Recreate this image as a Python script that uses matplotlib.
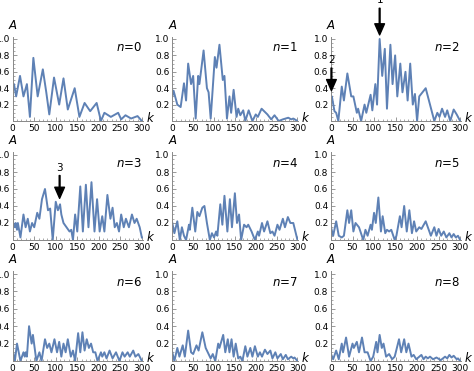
import matplotlib
matplotlib.use("Agg")
import matplotlib.pyplot as plt
from matplotlib.ticker import MultipleLocator

# (k, A) vertices, one pair of lists per panel
k0 = [0, 3, 8, 17, 25, 33, 40, 48, 58, 70, 78, 85, 96, 108, 118, 128, 144, 155, 167, 180, 195, 205, 213, 228, 245, 252, 262, 275, 290, 300]
a0 = [0.38, 0.45, 0.30, 0.55, 0.30, 0.45, 0.05, 0.77, 0.30, 0.63, 0.35, 0.08, 0.53, 0.20, 0.52, 0.14, 0.40, 0.05, 0.22, 0.12, 0.22, 0.0, 0.10, 0.05, 0.10, 0.02, 0.07, 0.03, 0.06, 0.0]

k1 = [0, 3, 12, 20, 28, 33, 38, 45, 50, 56, 62, 65, 75, 83, 87, 92, 102, 106, 113, 121, 125, 131, 137, 141, 147, 154, 158, 163, 170, 175, 183, 192, 200, 205, 214, 228, 237, 245, 255, 265, 278, 285, 290, 300]
a1 = [0.30, 0.37, 0.20, 0.17, 0.46, 0.25, 0.70, 0.45, 0.55, 0.03, 0.55, 0.45, 0.86, 0.40, 0.35, 0.03, 0.78, 0.65, 0.93, 0.50, 0.55, 0.03, 0.30, 0.10, 0.38, 0.05, 0.15, 0.07, 0.13, 0.0, 0.13, 0.0, 0.08, 0.05, 0.15, 0.08, 0.02, 0.07, 0.0, 0.02, 0.04, 0.02, 0.03, 0.0]

k2 = [0, 2, 8, 12, 17, 25, 30, 38, 47, 52, 60, 63, 70, 78, 82, 92, 96, 103, 107, 113, 119, 125, 130, 138, 143, 149, 154, 161, 166, 173, 178, 184, 190, 195, 200, 205, 220, 230, 240, 247, 252, 258, 265, 270, 277, 285, 292, 300]
a2 = [0.28, 0.30, 0.12, 0.10, 0.0, 0.42, 0.25, 0.58, 0.30, 0.30, 0.10, 0.15, 0.0, 0.20, 0.10, 0.32, 0.13, 0.45, 0.20, 1.0, 0.55, 0.88, 0.15, 0.93, 0.45, 0.80, 0.30, 0.70, 0.35, 0.60, 0.25, 0.70, 0.20, 0.33, 0.0, 0.30, 0.40, 0.20, 0.0, 0.10, 0.05, 0.15, 0.05, 0.13, 0.0, 0.14, 0.08, 0.0]

k3 = [0, 5, 7, 10, 12, 18, 25, 30, 35, 40, 45, 50, 57, 62, 68, 75, 82, 87, 93, 100, 105, 110, 113, 118, 125, 132, 136, 140, 145, 150, 157, 163, 170, 176, 183, 190, 196, 202, 208, 213, 220, 227, 232, 237, 242, 247, 252, 258, 263, 270, 277, 283, 288, 295, 300]
a3 = [0.22, 0.15, 0.20, 0.12, 0.20, 0.03, 0.30, 0.15, 0.25, 0.10, 0.20, 0.15, 0.32, 0.25, 0.48, 0.60, 0.35, 0.37, 0.0, 0.45, 0.35, 0.42, 0.30, 0.20, 0.15, 0.10, 0.12, 0.0, 0.30, 0.10, 0.63, 0.10, 0.65, 0.15, 0.68, 0.10, 0.48, 0.10, 0.28, 0.10, 0.53, 0.25, 0.38, 0.15, 0.20, 0.10, 0.30, 0.15, 0.25, 0.15, 0.30, 0.20, 0.25, 0.15, 0.03]

k4 = [0, 5, 12, 18, 23, 28, 33, 40, 42, 48, 55, 60, 65, 72, 77, 83, 90, 95, 100, 105, 108, 115, 120, 125, 132, 138, 143, 150, 155, 160, 165, 172, 178, 182, 190, 198, 205, 208, 215, 220, 228, 235, 240, 245, 252, 257, 265, 270, 277, 283, 290, 300]
a4 = [0.20, 0.08, 0.22, 0.0, 0.15, 0.05, 0.0, 0.18, 0.12, 0.38, 0.10, 0.33, 0.28, 0.38, 0.40, 0.20, 0.0, 0.08, 0.03, 0.10, 0.05, 0.42, 0.18, 0.52, 0.10, 0.48, 0.15, 0.55, 0.20, 0.30, 0.0, 0.18, 0.15, 0.18, 0.10, 0.0, 0.10, 0.05, 0.20, 0.10, 0.22, 0.08, 0.10, 0.05, 0.18, 0.12, 0.25, 0.15, 0.27, 0.20, 0.20, 0.0]

k5 = [0, 5, 12, 18, 25, 30, 38, 42, 47, 52, 57, 65, 75, 80, 85, 92, 95, 100, 104, 110, 116, 120, 126, 130, 135, 140, 148, 152, 160, 164, 170, 176, 182, 188, 193, 198, 205, 210, 220, 232, 240, 245, 250, 256, 262, 268, 275, 280, 285, 290, 295, 300]
a5 = [0.15, 0.05, 0.22, 0.05, 0.03, 0.05, 0.35, 0.20, 0.35, 0.10, 0.20, 0.15, 0.0, 0.12, 0.05, 0.18, 0.12, 0.32, 0.20, 0.50, 0.10, 0.28, 0.08, 0.12, 0.10, 0.12, 0.0, 0.05, 0.28, 0.15, 0.40, 0.10, 0.35, 0.08, 0.22, 0.10, 0.15, 0.13, 0.22, 0.05, 0.15, 0.05, 0.13, 0.05, 0.10, 0.03, 0.08, 0.03, 0.07, 0.03, 0.05, 0.0]

k6 = [0, 5, 10, 18, 25, 28, 30, 33, 38, 44, 47, 55, 62, 67, 75, 80, 85, 90, 97, 103, 108, 113, 118, 123, 128, 135, 140, 145, 152, 157, 162, 167, 172, 177, 182, 187, 192, 197, 205, 208, 213, 218, 225, 232, 240, 248, 255, 260, 267, 272, 280, 285, 292, 300]
a6 = [0.12, 0.0, 0.20, 0.0, 0.10, 0.05, 0.10, 0.05, 0.40, 0.20, 0.30, 0.0, 0.10, 0.0, 0.25, 0.15, 0.20, 0.10, 0.25, 0.10, 0.22, 0.05, 0.20, 0.10, 0.25, 0.05, 0.12, 0.0, 0.32, 0.10, 0.33, 0.12, 0.25, 0.15, 0.20, 0.10, 0.10, 0.0, 0.10, 0.05, 0.10, 0.03, 0.12, 0.03, 0.10, 0.0, 0.10, 0.05, 0.10, 0.05, 0.12, 0.05, 0.08, 0.0]

k7 = [0, 5, 12, 17, 25, 30, 38, 45, 50, 58, 63, 72, 80, 85, 92, 97, 103, 110, 113, 122, 127, 133, 137, 142, 147, 152, 158, 163, 168, 175, 180, 187, 192, 198, 205, 210, 215, 222, 228, 235, 240, 247, 252, 260, 265, 272, 277, 285, 290, 293, 300]
a7 = [0.10, 0.0, 0.15, 0.05, 0.18, 0.05, 0.35, 0.10, 0.08, 0.18, 0.12, 0.33, 0.15, 0.10, 0.03, 0.08, 0.0, 0.20, 0.15, 0.30, 0.10, 0.25, 0.10, 0.25, 0.05, 0.20, 0.03, 0.05, 0.0, 0.17, 0.05, 0.15, 0.05, 0.17, 0.05, 0.10, 0.05, 0.13, 0.08, 0.12, 0.03, 0.10, 0.03, 0.08, 0.02, 0.07, 0.02, 0.05, 0.03, 0.04, 0.0]

k8 = [0, 5, 12, 18, 25, 28, 35, 42, 50, 53, 60, 65, 72, 78, 85, 92, 98, 105, 108, 113, 118, 122, 128, 135, 142, 148, 158, 163, 170, 175, 180, 187, 192, 198, 210, 215, 220, 225, 230, 237, 245, 255, 265, 270, 275, 280, 285, 292, 295, 300]
a8 = [0.08, 0.02, 0.12, 0.02, 0.20, 0.10, 0.27, 0.05, 0.20, 0.15, 0.22, 0.10, 0.27, 0.10, 0.10, 0.0, 0.05, 0.22, 0.10, 0.30, 0.15, 0.20, 0.05, 0.08, 0.02, 0.05, 0.25, 0.10, 0.25, 0.10, 0.20, 0.05, 0.07, 0.02, 0.07, 0.02, 0.05, 0.03, 0.05, 0.02, 0.04, 0.01, 0.05, 0.03, 0.07, 0.04, 0.06, 0.02, 0.03, 0.0]

ks = [k0, k1, k2, k3, k4, k5, k6, k7, k8]
amps = [a0, a1, a2, a3, a4, a5, a6, a7, a8]
labels = ["$n$=0", "$n$=1", "$n$=2", "$n$=3", "$n$=4", "$n$=5", "$n$=6", "$n$=7", "$n$=8"]

blue = "#5e81b5"
W, H = 474, 371
fig = plt.figure(figsize=(W / 100, H / 100), dpi=100)

lefts = [12.7, 172.3, 331]      # pixel x of k=0 in each column
widths = [130, 126, 130]
zeros = [121, 240, 361]         # pixel y of A=0 in each row
ones = [39, 155, 274]           # pixel y of A=1 in each row

axes = []
for i in range(9):
    r, c = divmod(i, 3)
    ppu = zeros[r] - ones[r]
    top = 1.03
    ax = fig.add_axes([lefts[c] / W, 1 - zeros[r] / H, widths[c] / W, ppu * top / H])
    ax.plot(ks[i], amps[i], color=blue, lw=1.4, solid_joinstyle="round")
    ax.set_xlim(0, 302)
    ax.set_ylim(0, top)
    for s in ["top", "right"]:
        ax.spines[s].set_visible(False)
    for s in ["left", "bottom"]:
        ax.spines[s].set_color("#888888")
        ax.spines[s].set_linewidth(0.7)
    ax.xaxis.set_major_locator(MultipleLocator(50))
    ax.xaxis.set_minor_locator(MultipleLocator(10))
    ax.set_yticks([0.2, 0.4, 0.6, 0.8, 1.0])
    ax.yaxis.set_minor_locator(MultipleLocator(0.05))
    ax.tick_params(which="both", direction="in", colors="#888888", labelcolor="black",
                   labelsize=6.5, pad=2)
    ax.tick_params(which="major", length=3, width=0.6)
    ax.tick_params(which="minor", length=1.5, width=0.5)
    ax.text(0.0, 1.17, "A", style="italic", fontsize=8.5, ha="center", va="center",
            transform=ax.get_yaxis_transform(), clip_on=False)
    ax.text(318, 0.03, "k", style="italic", fontsize=8.5, ha="center", va="center", clip_on=False)
    ax.text(270, 0.9, labels[i], fontsize=8.5, ha="center", va="center")
    axes.append(ax)

arrow = dict(facecolor="black", edgecolor="black", width=0.6, headwidth=7, headlength=8)
axes[2].annotate("1", xy=(113, 1.05), xytext=(113, 1.47), ha="center", va="center",
                 fontsize=7.5, arrowprops=arrow, annotation_clip=False)
axes[2].annotate("2", xy=(1, 0.37), xytext=(1, 0.74), ha="center", va="center",
                 fontsize=7.5, arrowprops=arrow, annotation_clip=False)
axes[3].annotate("3", xy=(109, 0.49), xytext=(109, 0.85), ha="center", va="center",
                 fontsize=7.5, arrowprops=arrow, annotation_clip=False)

fig.savefig("out.png", dpi=100)
